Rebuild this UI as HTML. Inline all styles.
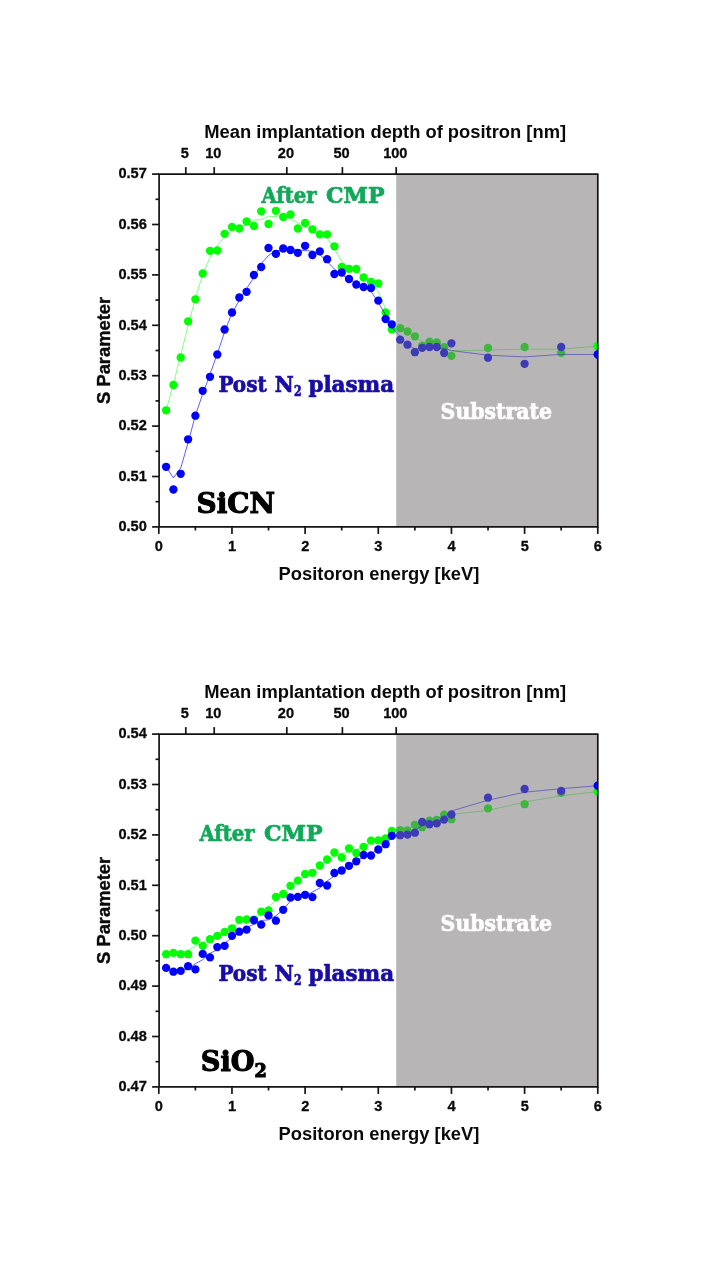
<!DOCTYPE html>
<html lang="en">
<head>
<meta charset="utf-8">
<title>S Parameter vs Positron energy</title>
<style>
html,body{margin:0;padding:0;background:#ffffff;}
body{width:720px;height:1280px;overflow:hidden;}
svg{display:block;}
.tk text{font-family:"Liberation Sans",Arial,sans-serif;font-weight:bold;font-size:14.6px;fill:#0a0a0a;stroke:#0a0a0a;stroke-width:0.3px;}
.tt{font-family:"Liberation Sans",Arial,sans-serif;font-weight:bold;font-size:18.35px;fill:#0a0a0a;}
.ty{font-family:"Liberation Sans",Arial,sans-serif;font-weight:bold;font-size:18.35px;fill:#0a0a0a;stroke:#0a0a0a;stroke-width:0.35px;}
.sl{font-family:"DejaVu Serif Condensed","DejaVu Serif","Liberation Serif",serif;font-weight:bold;}
</style>
</head>
<body>
<svg width="720" height="1280" viewBox="0 0 720 1280">
<rect width="720" height="1280" fill="#ffffff"/>
<g>
<clipPath id="clip1"><rect x="159.1" y="168.1" width="438.69999999999993" height="364.79999999999995"/></clipPath>
<g clip-path="url(#clip1)">
<polyline points="166.1,410.3 173.4,384.3 180.7,354.9 188.1,325.6 195.4,298.1 202.7,274.4 210.0,257.6 217.3,245.5 224.6,236.8 232.0,229.5 239.3,225.9 246.6,225.0 253.9,220.2 261.2,219.6 268.5,216.2 275.9,216.7 283.2,214.4 290.5,219.5 297.8,222.6 305.1,226.6 312.4,228.9 319.8,232.9 327.1,238.0 334.4,249.0 341.7,261.3 349.0,268.3 356.3,271.5 363.6,276.2 371.0,281.0 378.3,291.8 385.6,308.9 391.8,324.0 400.2,329.6 407.5,332.0 414.9,337.7 422.2,341.7 429.5,343.2 436.8,343.7 444.1,348.4 451.4,350.8 488.0,350.1 524.6,349.1 561.2,349.1 597.8,346.2" fill="none" stroke="#00ff00" stroke-width="0.9" stroke-opacity="0.55"/>
<circle cx="166.1" cy="410.3" r="4.15" fill="#00ff00"/>
<circle cx="173.4" cy="385.0" r="4.15" fill="#00ff00"/>
<circle cx="180.7" cy="357.5" r="4.15" fill="#00ff00"/>
<circle cx="188.1" cy="321.3" r="4.15" fill="#00ff00"/>
<circle cx="195.4" cy="299.3" r="4.15" fill="#00ff00"/>
<circle cx="202.7" cy="273.5" r="4.15" fill="#00ff00"/>
<circle cx="210.0" cy="250.8" r="4.15" fill="#00ff00"/>
<circle cx="217.3" cy="250.5" r="4.15" fill="#00ff00"/>
<circle cx="224.6" cy="233.8" r="4.15" fill="#00ff00"/>
<circle cx="232.0" cy="227.0" r="4.15" fill="#00ff00"/>
<circle cx="239.3" cy="228.5" r="4.15" fill="#00ff00"/>
<circle cx="246.6" cy="221.5" r="4.15" fill="#00ff00"/>
<circle cx="253.9" cy="226.0" r="4.15" fill="#00ff00"/>
<circle cx="261.2" cy="211.3" r="4.15" fill="#00ff00"/>
<circle cx="268.5" cy="224.0" r="4.15" fill="#00ff00"/>
<circle cx="275.9" cy="210.8" r="4.15" fill="#00ff00"/>
<circle cx="283.2" cy="217.0" r="4.15" fill="#00ff00"/>
<circle cx="290.5" cy="214.5" r="4.15" fill="#00ff00"/>
<circle cx="297.8" cy="228.5" r="4.15" fill="#00ff00"/>
<circle cx="305.1" cy="223.0" r="4.15" fill="#00ff00"/>
<circle cx="312.4" cy="229.3" r="4.15" fill="#00ff00"/>
<circle cx="319.8" cy="234.4" r="4.15" fill="#00ff00"/>
<circle cx="327.1" cy="234.4" r="4.15" fill="#00ff00"/>
<circle cx="334.4" cy="246.3" r="4.15" fill="#00ff00"/>
<circle cx="341.7" cy="267.0" r="4.15" fill="#00ff00"/>
<circle cx="349.0" cy="268.8" r="4.15" fill="#00ff00"/>
<circle cx="356.3" cy="269.0" r="4.15" fill="#00ff00"/>
<circle cx="363.6" cy="277.5" r="4.15" fill="#00ff00"/>
<circle cx="371.0" cy="281.8" r="4.15" fill="#00ff00"/>
<circle cx="378.3" cy="283.5" r="4.15" fill="#00ff00"/>
<circle cx="385.6" cy="312.5" r="4.15" fill="#00ff00"/>
<circle cx="391.8" cy="329.5" r="4.15" fill="#00ff00"/>
<circle cx="400.2" cy="328.2" r="4.15" fill="#00ff00"/>
<circle cx="407.5" cy="331.5" r="4.15" fill="#00ff00"/>
<circle cx="414.9" cy="336.3" r="4.15" fill="#00ff00"/>
<circle cx="422.2" cy="345.8" r="4.15" fill="#00ff00"/>
<circle cx="429.5" cy="341.7" r="4.15" fill="#00ff00"/>
<circle cx="436.8" cy="342.5" r="4.15" fill="#00ff00"/>
<circle cx="444.1" cy="347.2" r="4.15" fill="#00ff00"/>
<circle cx="451.4" cy="355.8" r="4.15" fill="#00ff00"/>
<circle cx="488.0" cy="348.0" r="4.15" fill="#00ff00"/>
<circle cx="524.6" cy="347.0" r="4.15" fill="#00ff00"/>
<circle cx="561.2" cy="352.9" r="4.15" fill="#00ff00"/>
<circle cx="597.8" cy="346.2" r="4.15" fill="#00ff00"/>
<polyline points="166.1,466.8 173.4,477.9 180.7,468.1 188.1,442.6 195.4,415.3 202.7,394.1 210.0,374.3 217.3,353.7 224.6,331.9 232.0,313.1 239.3,300.3 246.6,288.4 253.9,277.7 261.2,263.7 268.5,255.5 275.9,250.4 283.2,250.6 290.5,250.4 297.8,249.8 305.1,250.7 312.4,251.1 319.8,254.9 327.1,261.3 334.4,269.1 341.7,274.9 349.0,278.7 356.3,283.6 363.6,286.5 371.0,291.5 378.3,302.4 385.6,315.0 391.8,327.4 400.2,336.5 407.5,345.5 414.9,348.6 422.2,348.9 429.5,347.2 436.8,348.8 444.1,348.2 451.4,350.6 488.0,355.2 524.6,356.9 561.2,354.4 597.8,354.5" fill="none" stroke="#0000ff" stroke-width="0.9" stroke-opacity="0.7"/>
<circle cx="166.1" cy="466.8" r="4.15" fill="#0000ff"/>
<circle cx="173.4" cy="489.5" r="4.15" fill="#0000ff"/>
<circle cx="180.7" cy="473.8" r="4.15" fill="#0000ff"/>
<circle cx="188.1" cy="439.3" r="4.15" fill="#0000ff"/>
<circle cx="195.4" cy="415.7" r="4.15" fill="#0000ff"/>
<circle cx="202.7" cy="390.8" r="4.15" fill="#0000ff"/>
<circle cx="210.0" cy="376.8" r="4.15" fill="#0000ff"/>
<circle cx="217.3" cy="354.5" r="4.15" fill="#0000ff"/>
<circle cx="224.6" cy="329.5" r="4.15" fill="#0000ff"/>
<circle cx="232.0" cy="312.5" r="4.15" fill="#0000ff"/>
<circle cx="239.3" cy="297.5" r="4.15" fill="#0000ff"/>
<circle cx="246.6" cy="291.8" r="4.15" fill="#0000ff"/>
<circle cx="253.9" cy="275.0" r="4.15" fill="#0000ff"/>
<circle cx="261.2" cy="267.0" r="4.15" fill="#0000ff"/>
<circle cx="268.5" cy="248.0" r="4.15" fill="#0000ff"/>
<circle cx="275.9" cy="253.8" r="4.15" fill="#0000ff"/>
<circle cx="283.2" cy="248.5" r="4.15" fill="#0000ff"/>
<circle cx="290.5" cy="250.0" r="4.15" fill="#0000ff"/>
<circle cx="297.8" cy="252.8" r="4.15" fill="#0000ff"/>
<circle cx="305.1" cy="245.8" r="4.15" fill="#0000ff"/>
<circle cx="312.4" cy="255.0" r="4.15" fill="#0000ff"/>
<circle cx="319.8" cy="251.4" r="4.15" fill="#0000ff"/>
<circle cx="327.1" cy="259.2" r="4.15" fill="#0000ff"/>
<circle cx="334.4" cy="274.0" r="4.15" fill="#0000ff"/>
<circle cx="341.7" cy="272.5" r="4.15" fill="#0000ff"/>
<circle cx="349.0" cy="279.0" r="4.15" fill="#0000ff"/>
<circle cx="356.3" cy="284.5" r="4.15" fill="#0000ff"/>
<circle cx="363.6" cy="287.0" r="4.15" fill="#0000ff"/>
<circle cx="371.0" cy="288.0" r="4.15" fill="#0000ff"/>
<circle cx="378.3" cy="300.6" r="4.15" fill="#0000ff"/>
<circle cx="385.6" cy="319.0" r="4.15" fill="#0000ff"/>
<circle cx="391.8" cy="324.3" r="4.15" fill="#0000ff"/>
<circle cx="400.2" cy="339.7" r="4.15" fill="#0000ff"/>
<circle cx="407.5" cy="344.7" r="4.15" fill="#0000ff"/>
<circle cx="414.9" cy="352.2" r="4.15" fill="#0000ff"/>
<circle cx="422.2" cy="347.8" r="4.15" fill="#0000ff"/>
<circle cx="429.5" cy="347.0" r="4.15" fill="#0000ff"/>
<circle cx="436.8" cy="347.0" r="4.15" fill="#0000ff"/>
<circle cx="444.1" cy="353.0" r="4.15" fill="#0000ff"/>
<circle cx="451.4" cy="343.3" r="4.15" fill="#0000ff"/>
<circle cx="488.0" cy="357.7" r="4.15" fill="#0000ff"/>
<circle cx="524.6" cy="363.8" r="4.15" fill="#0000ff"/>
<circle cx="561.2" cy="347.0" r="4.15" fill="#0000ff"/>
<circle cx="597.8" cy="354.5" r="4.15" fill="#0000ff"/>
</g>
<rect x="396.2" y="174.9" width="201.00000000000006" height="351.19999999999993" fill="rgb(118,114,116)" fill-opacity="0.52"/>
<g clip-path="url(#clip1)"><circle cx="597.8" cy="346.2" r="4.15" fill="#00ff00"/><circle cx="597.8" cy="354.5" r="4.15" fill="#0000ff"/></g>
<g stroke="#141414" stroke-width="1.7" fill="none">
<path d="M159.1,527.6999999999999 V174.1 H597.8 V526.9 H158.29999999999998"/>
<path d="M159.1,174.10 h-7"/>
<path d="M159.1,199.30 h-3.6"/>
<path d="M159.1,224.50 h-7"/>
<path d="M159.1,249.70 h-3.6"/>
<path d="M159.1,274.90 h-7"/>
<path d="M159.1,300.10 h-3.6"/>
<path d="M159.1,325.30 h-7"/>
<path d="M159.1,350.50 h-3.6"/>
<path d="M159.1,375.70 h-7"/>
<path d="M159.1,400.90 h-3.6"/>
<path d="M159.1,426.10 h-7"/>
<path d="M159.1,451.30 h-3.6"/>
<path d="M159.1,476.50 h-7"/>
<path d="M159.1,501.70 h-3.6"/>
<path d="M159.1,526.90 h-7"/>
<path d="M158.80,526.9 v7"/>
<path d="M195.38,526.9 v3.6"/>
<path d="M231.96,526.9 v7"/>
<path d="M268.54,526.9 v3.6"/>
<path d="M305.12,526.9 v7"/>
<path d="M341.70,526.9 v3.6"/>
<path d="M378.28,526.9 v7"/>
<path d="M414.86,526.9 v3.6"/>
<path d="M451.44,526.9 v7"/>
<path d="M488.02,526.9 v3.6"/>
<path d="M524.60,526.9 v7"/>
<path d="M561.18,526.9 v3.6"/>
<path d="M597.76,526.9 v7"/>
<path d="M185.8,174.1 v-7"/>
<path d="M214.2,174.1 v-7"/>
<path d="M286.8,174.1 v-7"/>
<path d="M342.4,174.1 v-7"/>
<path d="M396.2,174.1 v-7"/>
</g>
<g class="tk">
<text transform="translate(146.8,178.4) scale(1,1.05)" text-anchor="end">0.57</text>
<text transform="translate(146.8,228.8) scale(1,1.05)" text-anchor="end">0.56</text>
<text transform="translate(146.8,279.2) scale(1,1.05)" text-anchor="end">0.55</text>
<text transform="translate(146.8,329.6) scale(1,1.05)" text-anchor="end">0.54</text>
<text transform="translate(146.8,380.0) scale(1,1.05)" text-anchor="end">0.53</text>
<text transform="translate(146.8,430.4) scale(1,1.05)" text-anchor="end">0.52</text>
<text transform="translate(146.8,480.8) scale(1,1.05)" text-anchor="end">0.51</text>
<text transform="translate(146.8,531.2) scale(1,1.05)" text-anchor="end">0.50</text>
<text transform="translate(158.9,550.6) scale(1,1.05)" text-anchor="middle">0</text>
<text transform="translate(232.1,550.6) scale(1,1.05)" text-anchor="middle">1</text>
<text transform="translate(305.2,550.6) scale(1,1.05)" text-anchor="middle">2</text>
<text transform="translate(378.4,550.6) scale(1,1.05)" text-anchor="middle">3</text>
<text transform="translate(451.5,550.6) scale(1,1.05)" text-anchor="middle">4</text>
<text transform="translate(524.7,550.6) scale(1,1.05)" text-anchor="middle">5</text>
<text transform="translate(597.9,550.6) scale(1,1.05)" text-anchor="middle">6</text>
<text transform="translate(184.9,158.4) scale(1,1.05)" text-anchor="middle" font-size="14.3">5</text>
<text transform="translate(213.3,158.4) scale(1,1.05)" text-anchor="middle" font-size="14.3">10</text>
<text transform="translate(285.9,158.4) scale(1,1.05)" text-anchor="middle" font-size="14.3">20</text>
<text transform="translate(341.5,158.4) scale(1,1.05)" text-anchor="middle" font-size="14.3">50</text>
<text transform="translate(395.3,158.4) scale(1,1.05)" text-anchor="middle" font-size="14.3">100</text>
</g>
<text class="tt" x="204.3" y="137.9">Mean implantation depth of positron [nm]</text>
<text class="tt" x="278.6" y="580.2">Positoron energy [keV]</text>
<text class="ty" transform="translate(110.2,403.9) rotate(-90)">S Parameter</text>
<text class="sl" y="202.7" font-size="23" fill="#12a85a" stroke="#12a85a" stroke-width="0.7"><tspan x="261.4" textLength="55.2" lengthAdjust="spacingAndGlyphs">After</tspan> <tspan x="325.9" textLength="58.6" lengthAdjust="spacingAndGlyphs">CMP</tspan></text>
<text class="sl" y="391.5" font-size="23" fill="#180ea6" stroke="#180ea6" stroke-width="0.7"><tspan x="218.4" textLength="48.3" lengthAdjust="spacingAndGlyphs">Post</tspan> <tspan x="274.7" textLength="19" lengthAdjust="spacingAndGlyphs">N</tspan><tspan x="294.0" dy="4.8" font-size="15" textLength="7.6" lengthAdjust="spacingAndGlyphs">2</tspan> <tspan x="308.5" dy="-4.8" textLength="85.6" lengthAdjust="spacingAndGlyphs">plasma</tspan></text>
<text class="sl" x="440.6" y="419.2" font-size="23" fill="#ffffff" stroke="#ffffff" stroke-width="0.7" textLength="111.5" lengthAdjust="spacingAndGlyphs">Substrate</text>
<text class="sl" x="196.5" y="513.3" font-size="28.4" fill="#000000" stroke="#000000" stroke-width="1" textLength="78.5" lengthAdjust="spacingAndGlyphs">SiCN</text>
</g>
<g>
<clipPath id="clip2"><rect x="159.1" y="728.1" width="438.69999999999993" height="364.80000000000007"/></clipPath>
<g clip-path="url(#clip2)">
<polyline points="166.1,954.2 173.4,953.7 180.7,953.8 188.1,950.1 195.4,946.3 202.7,942.2 210.0,940.2 217.3,935.7 224.6,932.0 232.0,926.8 239.3,922.3 246.6,919.7 253.9,917.2 261.2,913.7 268.5,906.7 275.9,900.2 283.2,892.4 290.5,886.7 297.8,880.2 305.1,875.6 312.4,871.0 319.8,865.9 327.1,859.2 334.4,856.1 341.7,853.2 349.0,852.5 356.3,849.7 363.6,846.8 371.0,842.4 378.3,839.9 385.6,836.8 391.8,833.0 400.2,830.5 407.5,828.6 414.9,827.2 422.2,824.5 429.5,822.4 436.8,818.5 444.1,817.6 451.4,814.5 488.0,810.4 524.6,802.0 561.2,795.9 597.8,791.5" fill="none" stroke="#00ff00" stroke-width="0.9" stroke-opacity="0.55"/>
<circle cx="166.1" cy="954.2" r="4.15" fill="#00ff00"/>
<circle cx="173.4" cy="952.9" r="4.15" fill="#00ff00"/>
<circle cx="180.7" cy="954.2" r="4.15" fill="#00ff00"/>
<circle cx="188.1" cy="954.2" r="4.15" fill="#00ff00"/>
<circle cx="195.4" cy="940.6" r="4.15" fill="#00ff00"/>
<circle cx="202.7" cy="945.8" r="4.15" fill="#00ff00"/>
<circle cx="210.0" cy="939.2" r="4.15" fill="#00ff00"/>
<circle cx="217.3" cy="935.8" r="4.15" fill="#00ff00"/>
<circle cx="224.6" cy="932.0" r="4.15" fill="#00ff00"/>
<circle cx="232.0" cy="928.3" r="4.15" fill="#00ff00"/>
<circle cx="239.3" cy="919.8" r="4.15" fill="#00ff00"/>
<circle cx="246.6" cy="919.5" r="4.15" fill="#00ff00"/>
<circle cx="253.9" cy="919.7" r="4.15" fill="#00ff00"/>
<circle cx="261.2" cy="911.7" r="4.15" fill="#00ff00"/>
<circle cx="268.5" cy="910.4" r="4.15" fill="#00ff00"/>
<circle cx="275.9" cy="897.0" r="4.15" fill="#00ff00"/>
<circle cx="283.2" cy="894.0" r="4.15" fill="#00ff00"/>
<circle cx="290.5" cy="885.8" r="4.15" fill="#00ff00"/>
<circle cx="297.8" cy="880.6" r="4.15" fill="#00ff00"/>
<circle cx="305.1" cy="874.0" r="4.15" fill="#00ff00"/>
<circle cx="312.4" cy="872.8" r="4.15" fill="#00ff00"/>
<circle cx="319.8" cy="865.5" r="4.15" fill="#00ff00"/>
<circle cx="327.1" cy="859.5" r="4.15" fill="#00ff00"/>
<circle cx="334.4" cy="852.5" r="4.15" fill="#00ff00"/>
<circle cx="341.7" cy="857.5" r="4.15" fill="#00ff00"/>
<circle cx="349.0" cy="848.3" r="4.15" fill="#00ff00"/>
<circle cx="356.3" cy="853.0" r="4.15" fill="#00ff00"/>
<circle cx="363.6" cy="846.8" r="4.15" fill="#00ff00"/>
<circle cx="371.0" cy="840.6" r="4.15" fill="#00ff00"/>
<circle cx="378.3" cy="840.4" r="4.15" fill="#00ff00"/>
<circle cx="385.6" cy="838.4" r="4.15" fill="#00ff00"/>
<circle cx="391.8" cy="831.0" r="4.15" fill="#00ff00"/>
<circle cx="400.2" cy="830.2" r="4.15" fill="#00ff00"/>
<circle cx="407.5" cy="830.4" r="4.15" fill="#00ff00"/>
<circle cx="414.9" cy="824.8" r="4.15" fill="#00ff00"/>
<circle cx="422.2" cy="827.2" r="4.15" fill="#00ff00"/>
<circle cx="429.5" cy="820.6" r="4.15" fill="#00ff00"/>
<circle cx="436.8" cy="819.8" r="4.15" fill="#00ff00"/>
<circle cx="444.1" cy="814.7" r="4.15" fill="#00ff00"/>
<circle cx="451.4" cy="819.2" r="4.15" fill="#00ff00"/>
<circle cx="488.0" cy="808.3" r="4.15" fill="#00ff00"/>
<circle cx="524.6" cy="804.2" r="4.15" fill="#00ff00"/>
<circle cx="561.2" cy="792.9" r="4.15" fill="#00ff00"/>
<circle cx="597.8" cy="791.5" r="4.15" fill="#00ff00"/>
<polyline points="166.1,967.9 173.4,970.3 180.7,969.7 188.1,968.6 195.4,963.7 202.7,959.7 210.0,953.2 217.3,949.8 224.6,943.2 232.0,937.6 239.3,932.3 246.6,927.4 253.9,924.4 261.2,920.5 268.5,919.8 275.9,915.8 283.2,909.4 290.5,901.0 297.8,896.4 305.1,896.1 312.4,892.1 319.8,888.0 327.1,881.0 334.4,876.0 341.7,869.8 349.0,865.9 356.3,860.8 363.6,857.1 371.0,853.5 378.3,849.7 385.6,843.3 391.8,838.2 400.2,835.2 407.5,834.2 414.9,830.0 422.2,825.9 429.5,823.3 436.8,822.5 444.1,819.2 451.4,811.0 488.0,800.2 524.6,792.2 561.2,788.7 597.8,785.7" fill="none" stroke="#0000ff" stroke-width="0.9" stroke-opacity="0.7"/>
<circle cx="166.1" cy="967.9" r="4.15" fill="#0000ff"/>
<circle cx="173.4" cy="971.7" r="4.15" fill="#0000ff"/>
<circle cx="180.7" cy="970.9" r="4.15" fill="#0000ff"/>
<circle cx="188.1" cy="966.2" r="4.15" fill="#0000ff"/>
<circle cx="195.4" cy="969.4" r="4.15" fill="#0000ff"/>
<circle cx="202.7" cy="953.9" r="4.15" fill="#0000ff"/>
<circle cx="210.0" cy="957.4" r="4.15" fill="#0000ff"/>
<circle cx="217.3" cy="947.1" r="4.15" fill="#0000ff"/>
<circle cx="224.6" cy="945.8" r="4.15" fill="#0000ff"/>
<circle cx="232.0" cy="935.8" r="4.15" fill="#0000ff"/>
<circle cx="239.3" cy="931.7" r="4.15" fill="#0000ff"/>
<circle cx="246.6" cy="929.6" r="4.15" fill="#0000ff"/>
<circle cx="253.9" cy="920.2" r="4.15" fill="#0000ff"/>
<circle cx="261.2" cy="924.6" r="4.15" fill="#0000ff"/>
<circle cx="268.5" cy="915.4" r="4.15" fill="#0000ff"/>
<circle cx="275.9" cy="920.7" r="4.15" fill="#0000ff"/>
<circle cx="283.2" cy="909.8" r="4.15" fill="#0000ff"/>
<circle cx="290.5" cy="897.5" r="4.15" fill="#0000ff"/>
<circle cx="297.8" cy="896.9" r="4.15" fill="#0000ff"/>
<circle cx="305.1" cy="894.8" r="4.15" fill="#0000ff"/>
<circle cx="312.4" cy="897.1" r="4.15" fill="#0000ff"/>
<circle cx="319.8" cy="883.0" r="4.15" fill="#0000ff"/>
<circle cx="327.1" cy="885.5" r="4.15" fill="#0000ff"/>
<circle cx="334.4" cy="873.0" r="4.15" fill="#0000ff"/>
<circle cx="341.7" cy="870.5" r="4.15" fill="#0000ff"/>
<circle cx="349.0" cy="865.8" r="4.15" fill="#0000ff"/>
<circle cx="356.3" cy="861.3" r="4.15" fill="#0000ff"/>
<circle cx="363.6" cy="855.0" r="4.15" fill="#0000ff"/>
<circle cx="371.0" cy="855.5" r="4.15" fill="#0000ff"/>
<circle cx="378.3" cy="849.5" r="4.15" fill="#0000ff"/>
<circle cx="385.6" cy="844.2" r="4.15" fill="#0000ff"/>
<circle cx="391.8" cy="835.8" r="4.15" fill="#0000ff"/>
<circle cx="400.2" cy="835.2" r="4.15" fill="#0000ff"/>
<circle cx="407.5" cy="834.6" r="4.15" fill="#0000ff"/>
<circle cx="414.9" cy="832.7" r="4.15" fill="#0000ff"/>
<circle cx="422.2" cy="822.0" r="4.15" fill="#0000ff"/>
<circle cx="429.5" cy="824.2" r="4.15" fill="#0000ff"/>
<circle cx="436.8" cy="823.3" r="4.15" fill="#0000ff"/>
<circle cx="444.1" cy="819.6" r="4.15" fill="#0000ff"/>
<circle cx="451.4" cy="814.5" r="4.15" fill="#0000ff"/>
<circle cx="488.0" cy="797.7" r="4.15" fill="#0000ff"/>
<circle cx="524.6" cy="789.0" r="4.15" fill="#0000ff"/>
<circle cx="561.2" cy="790.9" r="4.15" fill="#0000ff"/>
<circle cx="597.8" cy="785.7" r="4.15" fill="#0000ff"/>
</g>
<rect x="396.2" y="734.9" width="201.00000000000006" height="351.20000000000005" fill="rgb(118,114,116)" fill-opacity="0.52"/>
<g clip-path="url(#clip2)"><circle cx="597.8" cy="791.5" r="4.15" fill="#00ff00"/><circle cx="597.8" cy="785.7" r="4.15" fill="#0000ff"/></g>
<g stroke="#141414" stroke-width="1.7" fill="none">
<path d="M159.1,1087.7 V734.1 H597.8 V1086.9 H158.29999999999998"/>
<path d="M159.1,734.10 h-7"/>
<path d="M159.1,759.30 h-3.6"/>
<path d="M159.1,784.50 h-7"/>
<path d="M159.1,809.70 h-3.6"/>
<path d="M159.1,834.90 h-7"/>
<path d="M159.1,860.10 h-3.6"/>
<path d="M159.1,885.30 h-7"/>
<path d="M159.1,910.50 h-3.6"/>
<path d="M159.1,935.70 h-7"/>
<path d="M159.1,960.90 h-3.6"/>
<path d="M159.1,986.10 h-7"/>
<path d="M159.1,1011.30 h-3.6"/>
<path d="M159.1,1036.50 h-7"/>
<path d="M159.1,1061.70 h-3.6"/>
<path d="M159.1,1086.90 h-7"/>
<path d="M158.80,1086.9 v7"/>
<path d="M195.38,1086.9 v3.6"/>
<path d="M231.96,1086.9 v7"/>
<path d="M268.54,1086.9 v3.6"/>
<path d="M305.12,1086.9 v7"/>
<path d="M341.70,1086.9 v3.6"/>
<path d="M378.28,1086.9 v7"/>
<path d="M414.86,1086.9 v3.6"/>
<path d="M451.44,1086.9 v7"/>
<path d="M488.02,1086.9 v3.6"/>
<path d="M524.60,1086.9 v7"/>
<path d="M561.18,1086.9 v3.6"/>
<path d="M597.76,1086.9 v7"/>
<path d="M185.8,734.1 v-7"/>
<path d="M214.2,734.1 v-7"/>
<path d="M286.8,734.1 v-7"/>
<path d="M342.4,734.1 v-7"/>
<path d="M396.2,734.1 v-7"/>
</g>
<g class="tk">
<text transform="translate(146.8,738.4) scale(1,1.05)" text-anchor="end">0.54</text>
<text transform="translate(146.8,788.8) scale(1,1.05)" text-anchor="end">0.53</text>
<text transform="translate(146.8,839.2) scale(1,1.05)" text-anchor="end">0.52</text>
<text transform="translate(146.8,889.6) scale(1,1.05)" text-anchor="end">0.51</text>
<text transform="translate(146.8,940.0) scale(1,1.05)" text-anchor="end">0.50</text>
<text transform="translate(146.8,990.4) scale(1,1.05)" text-anchor="end">0.49</text>
<text transform="translate(146.8,1040.8) scale(1,1.05)" text-anchor="end">0.48</text>
<text transform="translate(146.8,1091.2) scale(1,1.05)" text-anchor="end">0.47</text>
<text transform="translate(158.9,1110.6) scale(1,1.05)" text-anchor="middle">0</text>
<text transform="translate(232.1,1110.6) scale(1,1.05)" text-anchor="middle">1</text>
<text transform="translate(305.2,1110.6) scale(1,1.05)" text-anchor="middle">2</text>
<text transform="translate(378.4,1110.6) scale(1,1.05)" text-anchor="middle">3</text>
<text transform="translate(451.5,1110.6) scale(1,1.05)" text-anchor="middle">4</text>
<text transform="translate(524.7,1110.6) scale(1,1.05)" text-anchor="middle">5</text>
<text transform="translate(597.9,1110.6) scale(1,1.05)" text-anchor="middle">6</text>
<text transform="translate(184.9,718.4) scale(1,1.05)" text-anchor="middle" font-size="14.3">5</text>
<text transform="translate(213.3,718.4) scale(1,1.05)" text-anchor="middle" font-size="14.3">10</text>
<text transform="translate(285.9,718.4) scale(1,1.05)" text-anchor="middle" font-size="14.3">20</text>
<text transform="translate(341.5,718.4) scale(1,1.05)" text-anchor="middle" font-size="14.3">50</text>
<text transform="translate(395.3,718.4) scale(1,1.05)" text-anchor="middle" font-size="14.3">100</text>
</g>
<text class="tt" x="204.3" y="697.9">Mean implantation depth of positron [nm]</text>
<text class="tt" x="278.6" y="1140.2">Positoron energy [keV]</text>
<text class="ty" transform="translate(110.2,963.9) rotate(-90)">S Parameter</text>
<text class="sl" y="840.5" font-size="23" fill="#12a85a" stroke="#12a85a" stroke-width="0.7"><tspan x="199.39999999999998" textLength="55.2" lengthAdjust="spacingAndGlyphs">After</tspan> <tspan x="263.9" textLength="58.6" lengthAdjust="spacingAndGlyphs">CMP</tspan></text>
<text class="sl" y="980.5" font-size="23" fill="#180ea6" stroke="#180ea6" stroke-width="0.7"><tspan x="218.4" textLength="48.3" lengthAdjust="spacingAndGlyphs">Post</tspan> <tspan x="274.7" textLength="19" lengthAdjust="spacingAndGlyphs">N</tspan><tspan x="294.0" dy="4.8" font-size="15" textLength="7.6" lengthAdjust="spacingAndGlyphs">2</tspan> <tspan x="308.5" dy="-4.8" textLength="85.6" lengthAdjust="spacingAndGlyphs">plasma</tspan></text>
<text class="sl" x="440.6" y="931.3" font-size="23" fill="#ffffff" stroke="#ffffff" stroke-width="0.7" textLength="111.5" lengthAdjust="spacingAndGlyphs">Substrate</text>
<text class="sl" x="200.8" y="1071.2" font-size="28.4" fill="#000000" stroke="#000000" stroke-width="1" textLength="66" lengthAdjust="spacingAndGlyphs">SiO<tspan font-size="18.5" dy="6">2</tspan></text>
</g>
</svg>
</body>
</html>
